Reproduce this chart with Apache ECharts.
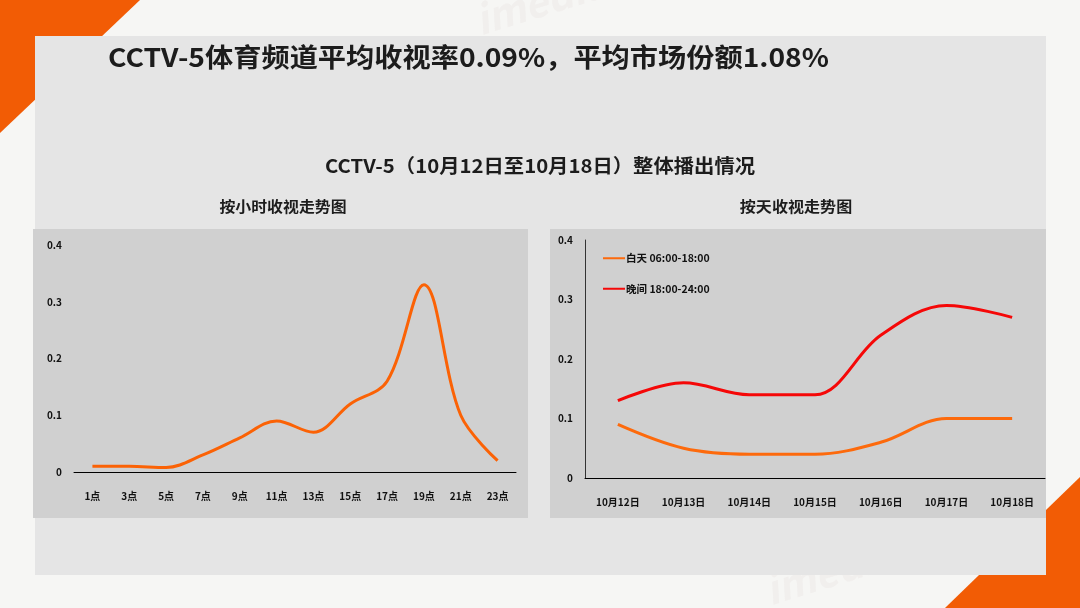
<!DOCTYPE html>
<html>
<head>
<meta charset="utf-8">
<script src="https://cdn.jsdelivr.net/npm/echarts@6/dist/echarts.min.js"></script>
<style>
html,body{margin:0;padding:0;background:#f6f6f4;}
#chart{width:1080px;height:608px;}
</style>
</head>
<body>
<div id="chart"></div>
<script>
// ---- data ----
var hourCategories = ['1点','3点','5点','7点','9点','11点','13点','15点','17点','19点','21点','23点'];
var hourValues = [0.01, 0.01, 0.008, 0.03, 0.06, 0.09, 0.07, 0.12, 0.16, 0.33, 0.10, 0.02];
var dayCategories = ['10月12日','10月13日','10月14日','10月15日','10月16日','10月17日','10月18日'];
var daytimeValues = [0.09, 0.05, 0.04, 0.04, 0.06, 0.10, 0.10];
var eveningValues = [0.13, 0.16, 0.14, 0.14, 0.24, 0.29, 0.27];
var seriesNames = ['白天 06:00-18:00', '晚间 18:00-24:00'];
var yTicks = [0, 0.1, 0.2, 0.3, 0.4];

var mainTitle = 'CCTV-5体育频道平均收视率0.09%，平均市场份额1.08%';
var subTitle = 'CCTV-5（10月12日至10月18日）整体播出情况';
var leftTitle = '按小时收视走势图';
var rightTitle = '按天收视走势图';

var FONT = '"Noto Sans CJK SC", "Noto Sans", sans-serif';
var chart = echarts.init(document.getElementById('chart'), null, {renderer: 'canvas'});

var axisLabelStyle = {color: '#111', fontSize: 10, fontWeight: 'bold', fontFamily: FONT};

chart.setOption({
  backgroundColor: '#f6f6f4',
  animation: false,
  graphic: [
    {type: 'polygon', z: -20, shape: {points: [[0,0],[140,0],[0,133]]}, style: {fill: '#f25c05'}},
    {type: 'polygon', z: -20, shape: {points: [[1080,477],[1080,608],[945,608]]}, style: {fill: '#f25c05'}},
    {type: 'text', z: -19, x: 470, y: 2, rotation: 0.3, style: {text: 'imedia', fill: 'rgba(205,190,190,0.13)', font: 'italic bold 40px ' + FONT}},
    {type: 'text', z: -19, x: 760, y: 572, rotation: 0.3, style: {text: 'imedia', fill: 'rgba(205,190,190,0.13)', font: 'italic bold 40px ' + FONT}},
    {type: 'rect', z: -10, shape: {x: 35, y: 36, width: 1011, height: 539}, style: {fill: '#e5e5e5'}},
    {type: 'rect', z: -9, shape: {x: 33, y: 229, width: 495, height: 289}, style: {fill: '#d0d0d0'}},
    {type: 'rect', z: -9, shape: {x: 550, y: 229, width: 496, height: 289}, style: {fill: '#d0d0d0'}},
    {type: 'text', z: 5, x: 108, y: 57, scaleX: 1.085, style: {text: mainTitle, fill: '#1c1c1c', font: 'bold 26px ' + FONT, align: 'left', verticalAlign: 'middle'}},
    {type: 'text', z: 5, x: 540, y: 166, scaleX: 1.07, style: {text: subTitle, fill: '#1c1c1c', font: 'bold 19px ' + FONT, align: 'center', verticalAlign: 'middle'}},
    {type: 'text', z: 5, x: 283, y: 206, scaleX: 1.06, style: {text: leftTitle, fill: '#1c1c1c', font: 'bold 15px ' + FONT, align: 'center', verticalAlign: 'middle'}},
    {type: 'text', z: 5, x: 796, y: 206, scaleX: 1.07, style: {text: rightTitle, fill: '#1c1c1c', font: 'bold 15px ' + FONT, align: 'center', verticalAlign: 'middle'}}
  ],
  legend: {
    orient: 'vertical',
    left: 598,
    top: 248,
    icon: 'rect',
    itemWidth: 22,
    itemHeight: 2,
    itemGap: 20,
    data: seriesNames,
    textStyle: {color: '#111', fontSize: 10.5, fontWeight: 'bold', fontFamily: FONT, padding: [0,0,0,-4]}
  },
  grid: [
    {left: 74, top: 245, width: 442, height: 227},
    {left: 585, top: 240, width: 460, height: 238}
  ],
  xAxis: [
    {
      type: 'category', gridIndex: 0, data: hourCategories, boundaryGap: true,
      axisLine: {show: true, lineStyle: {color: '#000', width: 1}},
      axisTick: {show: false},
      axisLabel: Object.assign({margin: 19, interval: 0}, axisLabelStyle)
    },
    {
      type: 'category', gridIndex: 1, data: dayCategories, boundaryGap: true,
      axisLine: {show: true, lineStyle: {color: '#000', width: 1}},
      axisTick: {show: false},
      axisLabel: Object.assign({margin: 19, interval: 0}, axisLabelStyle)
    }
  ],
  yAxis: [
    {
      type: 'value', gridIndex: 0, min: yTicks[0], max: yTicks[yTicks.length-1], interval: 0.1,
      axisLine: {show: false}, axisTick: {show: false}, splitLine: {show: false},
      axisLabel: Object.assign({margin: 12}, axisLabelStyle)
    },
    {
      type: 'value', gridIndex: 1, min: yTicks[0], max: yTicks[yTicks.length-1], interval: 0.1,
      axisLine: {show: true, lineStyle: {color: '#333', width: 1}}, axisTick: {show: false}, splitLine: {show: false},
      axisLabel: Object.assign({margin: 12}, axisLabelStyle)
    }
  ],
  series: [
    {
      type: 'line', xAxisIndex: 0, yAxisIndex: 0, data: hourValues, smooth: 0.35,
      symbol: 'none', lineStyle: {color: '#fb6205', width: 3}, itemStyle: {color: '#fb6205'}
    },
    {
      name: seriesNames[0], type: 'line', xAxisIndex: 1, yAxisIndex: 1, data: daytimeValues, smooth: 0.35,
      symbol: 'none', lineStyle: {color: '#fd6a0c', width: 3}, itemStyle: {color: '#fd6a0c'}
    },
    {
      name: seriesNames[1], type: 'line', xAxisIndex: 1, yAxisIndex: 1, data: eveningValues, smooth: 0.35,
      symbol: 'none', lineStyle: {color: '#f50808', width: 3}, itemStyle: {color: '#f50808'}
    }
  ]
});
</script>
</body>
</html>
